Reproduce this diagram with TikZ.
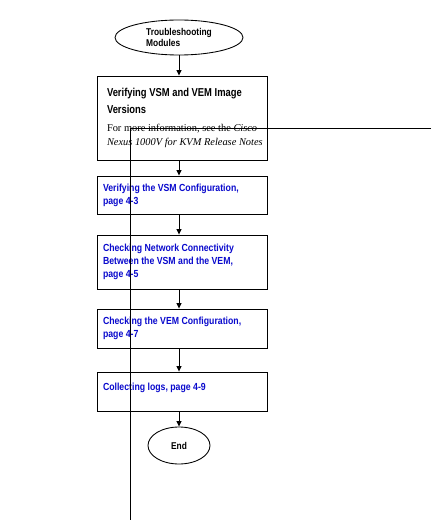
\documentclass[tikz,border=0pt]{standalone}
\usepackage{fontspec}
\setmainfont{Liberation Serif}
\newfontfamily\hfont[FakeStretch=0.85]{Liberation Sans}
\newfontfamily\tfont[FakeStretch=0.82]{Liberation Sans}
\usetikzlibrary{shapes.geometric,arrows.meta}
\definecolor{linkblue}{RGB}{10,10,205}
\newcommand{\titlef}{\tfont\bfseries\fontsize{8.6}{12.75}\selectfont}
\newcommand{\linkf}{\hfont\bfseries\fontsize{7.7}{9.75}\selectfont}
\newcommand{\bodyf}{\normalfont\fontsize{7.8}{10.5}\selectfont}
\newcommand{\boxstart}[1]{\leftskip=#1\rightskip=0pt plus 1fil\parfillskip=0pt plus 1fil\parindent=0pt\spaceskip=0pt\xspaceskip=0pt\relax}
\begin{document}
\begin{tikzpicture}[x=0.75pt,y=-0.75pt,
  line width=0.65pt,
  flowarrow/.style={-{Triangle[length=4pt,width=3.6pt]}},
  stepbox/.style={draw, rectangle, minimum width=127.5pt, text width=126.5pt,
    inner xsep=0.5pt, inner ysep=0pt},
  linkbox/.style={stepbox, font=\linkf, text=linkblue},
  term/.style={draw, ellipse, inner sep=0pt, align=left, font=\hfont\bfseries\fontsize{7.4}{8.25}\selectfont}]
\useasboundingbox (0,0) rectangle (433,520);
\fill[white] (0,0) rectangle (433,520);

\node[term, minimum width=96pt, minimum height=26.25pt] (start) at (179,37.5) {Troubleshooting\\Modules};

\node[stepbox, minimum height=63pt] (b1) at (182,118)
  {\boxstart{7pt}\titlef Verifying VSM and VEM Image\par Versions\par\vspace{2.5pt}\bodyf For more information, see the \textit{Cisco}\par\textit{Nexus 1000V for KVM Release Notes}\par};

\node[linkbox, minimum height=28.5pt] (b2) at (182,195)
  {\boxstart{4pt}Verifying the VSM Configuration,\par page 4-3\par};

\node[linkbox, minimum height=40.5pt] (b3) at (182,262)
  {\boxstart{4pt}Checking Network Connectivity\par Between the VSM and the VEM,\par page 4-5\par};

\node[linkbox, minimum height=29.25pt] (b4) at (182,328.5)
  {\boxstart{4pt}Checking the VEM Configuration,\par page 4-7\par};

\node[linkbox, minimum height=29.25pt, text depth=6.8pt] (b5) at (182,391.5)
  {\boxstart{4pt}Collecting logs, page 4-9\par};

\node[term, minimum width=46.5pt, minimum height=27.75pt] (end) at (179,445.5) {End};

\draw[flowarrow] (start.south) -- (start.south |- b1.north);
\draw[flowarrow] (b1.south -| start.south) -- (b2.north -| start.south);
\draw[flowarrow] (b2.south -| start.south) -- (b3.north -| start.south);
\draw[flowarrow] (b3.south -| start.south) -- (b4.north -| start.south);
\draw[flowarrow] (b4.south -| start.south) -- (b5.north -| start.south);
\draw[flowarrow] (b5.south -| start.south) -- (end.north);

\coordinate (lineR) at (431,128);
\coordinate (lineC) at (130.5,128);
\coordinate (lineB) at (130.5,520);
\draw (lineR) -- (lineC) -- (lineB);
\end{tikzpicture}
\end{document}
